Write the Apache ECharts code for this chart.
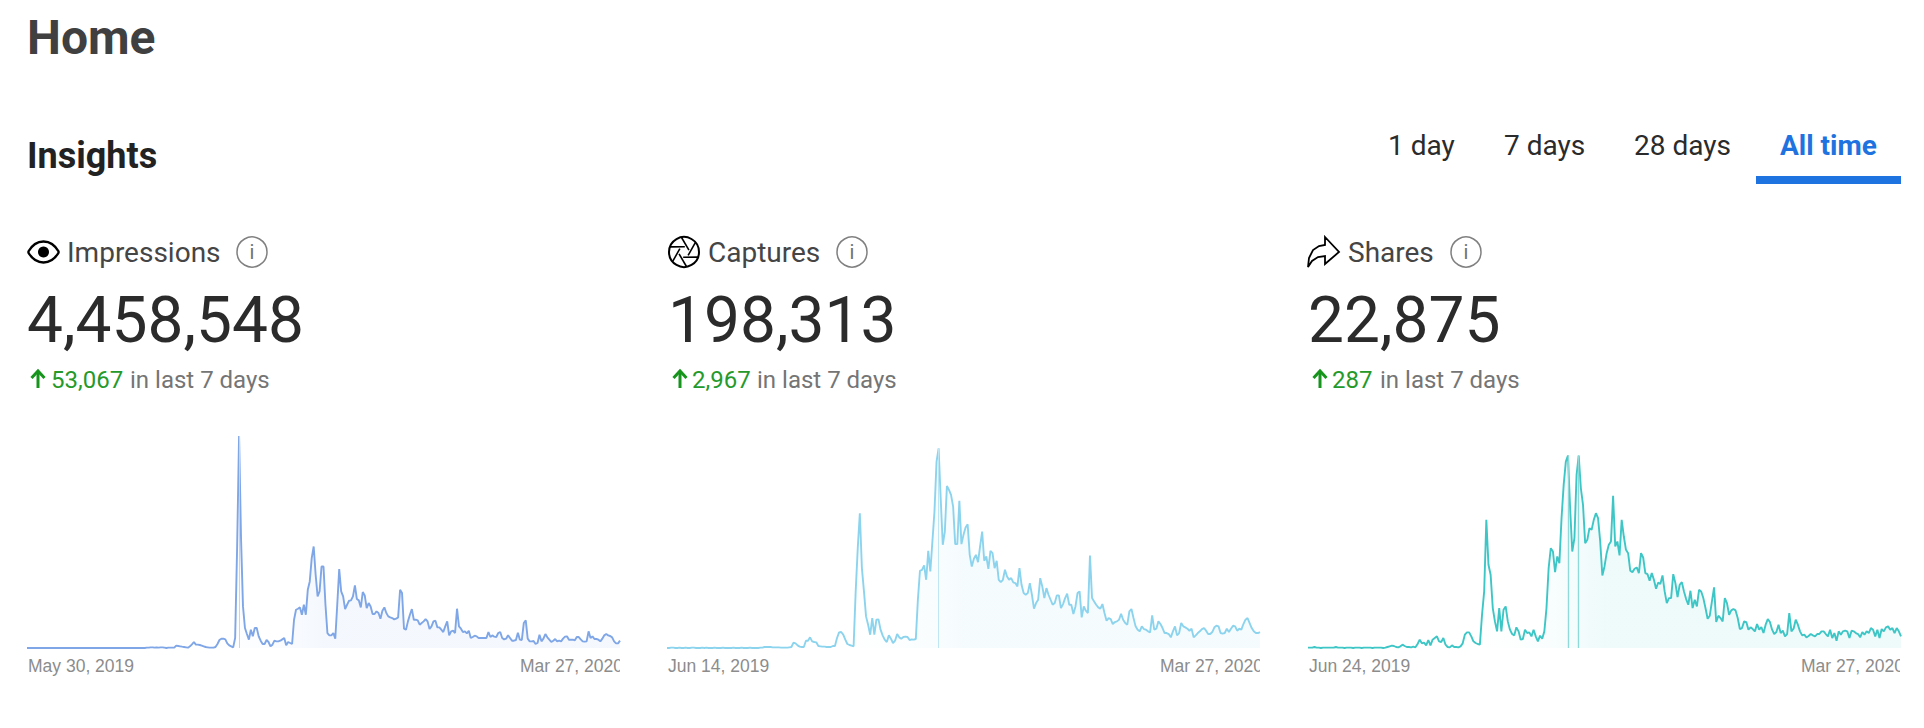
<!DOCTYPE html>
<html>
<head>
<meta charset="utf-8">
<title>Home</title>
<script src="https://cdn.jsdelivr.net/npm/echarts@6/dist/echarts.min.js"></script>
<style>
  html, body { margin: 0; padding: 0; background: #fff; }
  #main { width: 1924px; height: 728px; }
</style>
</head>
<body>
<div id="main"></div>
<script>
// daily values (relative scale, tallest day = 637)
let impressions = [
  0,0,0,0,0,0,0,0,0,0,0,0,0,0,0,0,0,0,0,0,0,0,0,0,0,0,0,0,0,0,
  0,0,0,0,0,0,0,0,0,0,0,0,0,0,0,0,0,0,0,0,0,0,0,0,0,0,0,0,0,0,0,
  1,1,2,2,1,2,1,2,2,1,0,1,1,1,1,
  7,6,5,4,3,2,1,5,11,18,10,10,9,7,5,3,2,1,1,1,3,12,24,28,28,26,14,8,5,2,
  30,300,637,330,125,60,42,25,55,35,60,60,35,22,12,12,24,18,5,10,22,20,20,22,26,30,8,18,15,12,
  85,115,118,122,100,130,100,175,200,270,305,220,155,170,245,245,130,45,38,38,45,28,130,237,170,155,117,130,142,143,
  155,188,147,143,122,168,158,120,135,125,102,102,110,105,88,112,122,105,95,92,90,86,88,92,175,165,58,55,80,100,
  117,85,85,83,70,75,80,87,80,57,65,80,82,62,62,55,48,65,80,38,50,52,45,118,65,58,48,50,44,52,
  30,33,37,35,30,30,30,30,30,48,33,38,34,33,45,48,30,26,28,38,30,22,22,24,46,25,24,75,83,28,20,
  20,21,12,15,40,20,28,42,32,25,18,22,27,20,22,20,28,34,35,25,25,25,23,33,33,26,20,19,20,50,30,
  35,27,27,25,20,28,38,42,38,36,32,20,14,14,22
];
let captures = [
  0,0,1,1,0,0,1,0,0,1,0,0,1,1,0,0,0,1,0,1,0,0,0,1,0,0,0,1,0,0,0,0,1,0,0,0,1,0,0,0,1,0,0,0,0,1,1,
  3,3,3,3,2,2,2,2,1,1,1,1,2,3,16,14,8,4,3,3,22,22,32,20,18,17,6,5,4,4,3,3,3,
  6,6,30,47,48,40,25,12,9,7,5,170,300,405,240,170,95,70,40,90,40,85,86,55,38,25,18,38,28,15,22,42,32,28,33,34,33,24,26,25,27,
  145,232,235,248,205,292,230,320,410,560,600,450,310,350,487,475,460,425,312,312,442,
  312,340,362,372,280,245,268,280,258,305,350,262,275,238,292,285,240,262,205,198,205,235,215,205,210,197,195,185,240,190,
  165,160,165,195,160,118,135,145,210,185,150,180,160,145,130,135,158,158,120,132,150,163,130,130,102,125,165,170,92,125,
  112,105,278,150,140,130,122,118,132,105,82,90,87,72,78,80,85,103,85,75,70,110,117,90,65,55,50,65,57,55,
  50,47,98,55,58,80,72,60,45,45,42,32,50,65,38,45,75,65,62,58,52,58,32,38,45,50,57,60,52,42,
  42,48,62,67,65,45,43,45,58,48,58,67,65,52,58,55,72,85,90,75,60,50,45,45,48
];
let shares = [
  1,1,1,3,1,1,0,1,1,1,1,1,1,3,1,1,1,0,1,1,1,0,1,1,1,0,1,1,1,1,0,1,1,1,1,0,1,
  3,5,7,6,3,2,5,10,6,3,3,2,4,2,12,25,14,16,8,24,8,25,30,35,20,18,30,10,3,2,8,3,3,2,5,14,40,47,47,35,20,15,12,10,
  100,170,385,250,220,120,80,50,120,50,115,125,80,55,42,38,62,50,25,27,55,45,47,35,55,35,20,37,28,50,
  120,240,300,290,228,275,255,390,490,560,578,420,290,330,520,578,480,430,315,325,360,355,385,405,390,320,
  218,245,285,310,320,457,305,320,278,385,335,295,285,232,228,238,242,225,285,272,225,222,202,225,205,178,197,192,218,170,
  135,150,150,222,195,153,190,198,170,147,130,172,120,145,125,175,170,150,120,88,97,140,182,78,97,90,80,150,135,100,
  113,117,113,90,57,60,80,78,55,62,57,50,72,55,63,45,70,87,78,55,42,48,70,45,52,35,42,105,50,58,
  85,70,50,38,40,32,36,42,38,35,42,42,50,50,42,35,55,30,45,22,50,40,50,52,50,30,52,50,45,42,
  32,48,40,50,45,60,55,35,55,30,57,50,62,65,55,60,45,60,50,35
];

let impressionDates = ['May 30, 2019', 'Mar 27, 2020'];
let captureDates = ['Jun 14, 2019', 'Mar 27, 2020'];
let shareDates = ['Jun 24, 2019', 'Mar 27, 2020'];

let impressionMarks = [108];
let captureMarks = [131];
let shareMarks = [121, 126];

let tabLabels = ['1 day', '7 days', '28 days', 'All time'];
let cardTitles = ['Impressions', 'Captures', 'Shares'];
let cardTotals = ['4,458,548', '198,313', '22,875'];
let cardDeltas = ['53,067', '2,967', '287'];

const PLOT_W = 593;
const ROBOTO = 'Roboto, sans-serif';

function txt(x, y, str, size, color, weight) {
    return {
        type: 'text', z: 10,
        style: {
            x: x, y: y, text: str, fill: color,
            font: (weight || 'normal') + ' ' + size + 'px ' + ROBOTO,
            textAlign: 'left', textVerticalAlign: 'middle'
        }
    };
}

function makeSeries(idx, values, marks, color, markColor, fillColor, markWidth) {
    return {
        type: 'line', xAxisIndex: idx, yAxisIndex: idx,
        data: values, showSymbol: false, symbol: 'none', clip: false,
        lineStyle: { color: color, width: 1.9 },
        areaStyle: {
            color: new echarts.graphic.LinearGradient(0, 0, 1, 0, [
                { offset: 0.25, color: 'rgba(255,255,255,0)' },
                { offset: 0.5, color: fillColor },
                { offset: 1, color: fillColor }
            ])
        },
        markLine: {
            silent: true, symbol: 'none', label: { show: false },
            lineStyle: { color: markColor, width: markWidth, type: 'solid' },
            data: marks.map(function (m) {
                return [{ coord: [m, 0] }, { coord: [m, values[m]] }];
            })
        }
    };
}

function makeAxes(idx, values, dates) {
    let last = values.length - 1;
    let cats = values.map(function (v, i) {
        return i === 0 ? dates[0] : (i === last ? dates[1] : '');
    });
    return {
        x: {
            type: 'category', gridIndex: idx, data: cats, boundaryGap: false,
            axisLine: { show: false }, axisTick: { show: false }, splitLine: { show: false },
            axisLabel: {
                interval: function (i) { return i === 0 || i === last; },
                color: '#8c8c8c', fontSize: 17.5, fontFamily: 'Liberation Sans',
                margin: 9, alignMinLabel: 'left', alignMaxLabel: 'right',
                padding: [0, -3, 0, 1], hideOverlap: false
            }
        },
        y: { type: 'value', gridIndex: idx, min: 0, max: 637, show: false }
    };
}

// header and stat cards
let gfx = [
    txt(27, 37, 'Home', 48, '#404040', 'bold'),
    txt(27, 156, 'Insights', 36, '#222222', 'bold'),
    txt(1388, 145, tabLabels[0], 28, '#2b2b2b'),
    txt(1504, 145, tabLabels[1], 28, '#2b2b2b'),
    txt(1634, 145, tabLabels[2], 28, '#2b2b2b'),
    txt(1780, 145, tabLabels[3], 28, '#1f73e0', 'bold'),
    { type: 'rect', z: 10, shape: { x: 1756, y: 176, width: 145, height: 8 }, style: { fill: '#1f73e0' } }
];

let cardPos = [
    { title: 67, info: 252, total: 27, arrow: 38, delta: 51, rest: 130 },
    { title: 708, info: 852, total: 668, arrow: 680, delta: 692, rest: 757 },
    { title: 1348, info: 1466, total: 1308, arrow: 1320, delta: 1332, rest: 1380 }
];

cardPos.forEach(function (p, i) {
    gfx.push(txt(p.title, 252.5, cardTitles[i], 28, '#454545'));
    gfx.push({ type: 'circle', z: 10, shape: { cx: p.info, cy: 252, r: 15 }, style: { fill: 'none', stroke: '#808080', lineWidth: 1.5 } });
    gfx.push(txt(p.info - 2.5, 252, 'i', 20, '#707070'));
    gfx.push(txt(p.total, 320, cardTotals[i], 64, '#2b2b2b'));
    gfx.push({ type: 'polyline', z: 10, shape: { points: [[p.arrow, 388], [p.arrow, 372]] }, style: { fill: 'none', stroke: '#16941c', lineWidth: 3 } });
    gfx.push({ type: 'polyline', z: 10, shape: { points: [[p.arrow - 6.5, 378], [p.arrow, 371], [p.arrow + 6.5, 378]] }, style: { fill: 'none', stroke: '#16941c', lineWidth: 3 } });
    gfx.push(txt(p.delta, 380, cardDeltas[i], 24, '#259a2a'));
    gfx.push(txt(p.rest, 380, 'in last 7 days', 24, '#757575'));
});

// eye
gfx.push({ type: 'bezierCurve', z: 10, shape: { x1: 28, y1: 252, cpx1: 36, cpy1: 238, cpx2: 51, cpy2: 238, x2: 59, y2: 252 }, style: { fill: 'none', stroke: '#000', lineWidth: 2.4 } });
gfx.push({ type: 'bezierCurve', z: 10, shape: { x1: 28, y1: 252, cpx1: 36, cpy1: 266, cpx2: 51, cpy2: 266, x2: 59, y2: 252 }, style: { fill: 'none', stroke: '#000', lineWidth: 2.4 } });
gfx.push({ type: 'circle', z: 10, shape: { cx: 43.5, cy: 252, r: 5.5 }, style: { fill: '#000' } });

// aperture
gfx.push({ type: 'circle', z: 10, shape: { cx: 684, cy: 252, r: 15 }, style: { fill: 'none', stroke: '#000', lineWidth: 2 } });
for (let k = 0; k < 6; k++) {
    let a = (k * 60 + 20) * Math.PI / 180;
    let b = ((k + 2) * 60 + 20) * Math.PI / 180;
    gfx.push({
        type: 'line', z: 10,
        shape: { x1: 684 + 15 * Math.cos(a), y1: 252 + 15 * Math.sin(a), x2: 684 + 6 * Math.cos(b) + 4 * Math.cos(a), y2: 252 + 6 * Math.sin(b) + 4 * Math.sin(a) },
        style: { stroke: '#000', lineWidth: 1.6 }
    });
}

// share arrow
gfx.push({
    type: 'polygon', z: 10,
    shape: { points: [[1325, 237], [1339, 252], [1325, 264], [1325, 256], [1318, 257], [1312, 261], [1308, 267], [1309, 258], [1313, 250], [1319, 246], [1325, 245]] },
    style: { fill: '#fff', stroke: '#000', lineWidth: 1.8 }
});

// the last date label gets cut off at the plot edge
[620, 1260, 1900].forEach(function (x) {
    gfx.push({ type: 'rect', z: 100, shape: { x: x, y: 652, width: 22, height: 28 }, style: { fill: '#fff' } });
});

let a0 = makeAxes(0, impressions, impressionDates);
let a1 = makeAxes(1, captures, captureDates);
let a2 = makeAxes(2, shares, shareDates);

let chart = echarts.init(document.getElementById('main'), null, { renderer: 'svg' });
chart.setOption({
    animation: false,
    backgroundColor: '#fff',
    grid: [
        { left: 27, top: 436, width: PLOT_W, height: 212 },
        { left: 667, top: 436, width: PLOT_W, height: 212 },
        { left: 1308, top: 436, width: PLOT_W, height: 212 }
    ],
    xAxis: [a0.x, a1.x, a2.x],
    yAxis: [a0.y, a1.y, a2.y],
    series: [
        makeSeries(0, impressions, impressionMarks, '#7fa6e6', '#c3d5f3', '#f0f5fd', 1),
        makeSeries(1, captures, captureMarks, '#8cd4ee', '#bfe6f3', '#f1fafd', 1),
        makeSeries(2, shares, shareMarks, '#3ec6c6', '#8fd9d9', '#e8f8f9', 1.4)
    ],
    graphic: gfx
});
</script>
</body>
</html>
